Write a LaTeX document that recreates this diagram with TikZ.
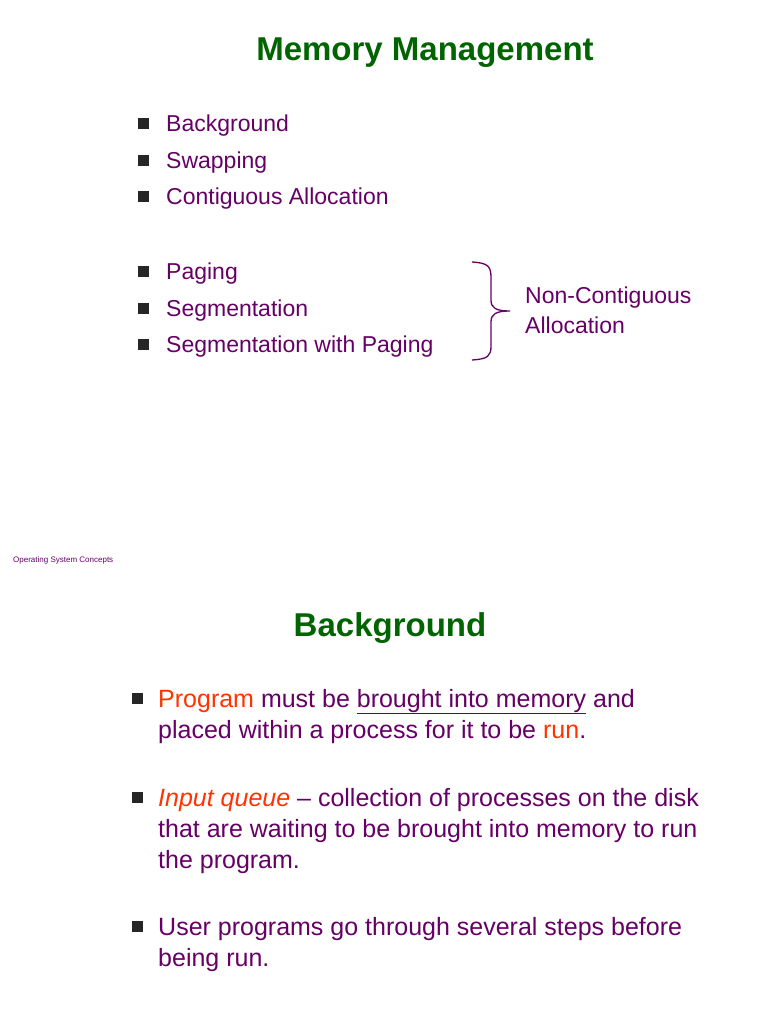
\documentclass[tikz,border=0pt]{standalone}
\usepackage{fontspec}
\setmainfont{Liberation Sans}
\definecolor{pur}{RGB}{102,0,102}
\definecolor{grn}{RGB}{0,100,0}
\definecolor{org}{RGB}{255,51,0}
\begin{document}
\begin{tikzpicture}[x=1pt,y=-1pt,
 t1/.style={anchor=base west,inner sep=0pt,text=pur,font=\fontsize{23}{26}\selectfont},
 t2/.style={anchor=base west,inner sep=0pt,text=pur,font=\fontsize{25}{28}\selectfont},
 ttl/.style={anchor=base,inner sep=0pt,text=grn,font=\fontsize{33}{36}\bfseries\selectfont},
 sq/.style={fill=black!85,draw=none,minimum size=11pt,inner sep=0pt}]
\useasboundingbox[fill=white] (0,0) rectangle (768,1024);
\node[ttl] (title1) at (425,61) {Memory Management};
\foreach \n/\y/\s in {a/132/Background,b/169/Swapping,c/205/Contiguous Allocation,d/279/Paging,e/316/Segmentation,f/352/Segmentation with Paging}{
 \node[sq] (s\n) at (143,\y-8) {};
 \node[t1] (\n) at (166,\y) {\s};
}
\draw[pur,line width=1.3pt] (472,262) .. controls (488,263) and (491,266) .. (491,278) -- (491,300) .. controls (491,308) and (496,311) .. (510,311) coordinate (tip)
 .. controls (496,311) and (491,314) .. (491,322) -- (491,346) .. controls (491,356) and (488,359) .. (472,360);
\node[t1] (nc1) at (525,303) {Non-Contiguous};
\node[t1] (nc2) at (525,333) {Allocation};
\node[anchor=base west,inner sep=0pt,text=pur,font=\fontsize{8}{9}\selectfont] (foot) at (13,562) {Operating System Concepts};
\node[ttl] (title2) at (390,636) {Background};
\node[sq] (q1) at (137,698) {};
\node[t2] (l1) at (158,707) {\textcolor{org}{Program} must be \underline{brought into memory} and};
\node[t2] (l2) at (158,738) {placed within a process for it to be \textcolor{org}{run}.};
\node[sq] (q2) at (137,797) {};
\node[t2] (l3) at (158,806) {\textcolor{org}{\itshape Input queue} – collection of processes on the disk};
\node[t2] (l4) at (158,837) {that are waiting to be brought into memory to run};
\node[t2] (l5) at (158,868) {the program.};
\node[sq] (q3) at (137,926) {};
\node[t2] (l6) at (158,935) {User programs go through several steps before};
\node[t2] (l7) at (158,966) {being run.};
\end{tikzpicture}
\end{document}
